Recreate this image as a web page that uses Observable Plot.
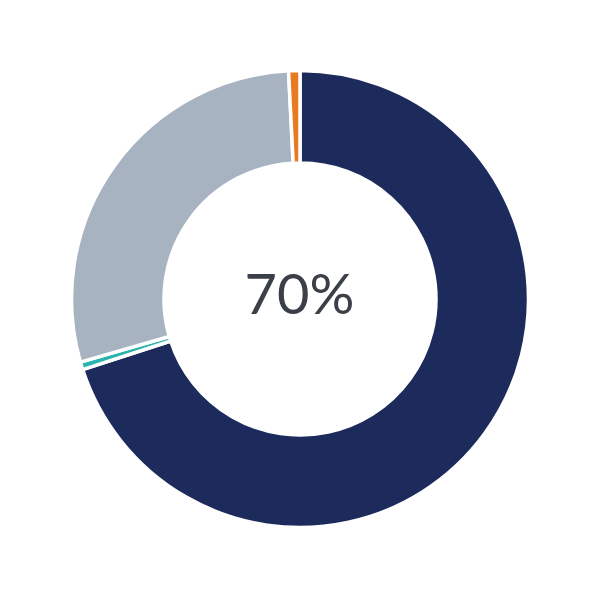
<!DOCTYPE html>
<html>
<head>
<meta charset="utf-8">
<script src="https://cdn.jsdelivr.net/npm/d3@7"></script>
<script src="https://cdn.jsdelivr.net/npm/@observablehq/plot@0.6"></script>
<style>
  html, body { margin: 0; padding: 0; background: #ffffff; }
</style>
</head>
<body>
<div id="chart"></div>
<script>
// Data
const categories = ["Navy", "Teal", "Gray", "Orange"];
const shares = [70, 0.55, 28.65, 0.8];
const colors = ["#1c2b5b", "#2bb3ad", "#a8b3c2", "#e87a22"];
const centerLabel = ["70%"];

const data = categories.map((c, i) => ({category: c, value: shares[i]}));

const donut = (index, scales, values, dimensions) => {
  const cx = 300, cy = 299;
  const pie = d3.pie().value(d => d.value).sort(null);
  const arc = d3.arc().innerRadius(136).outerRadius(228.5);
  const g = d3.create("svg:g").attr("transform", `translate(${cx},${cy})`);
  g.selectAll("path")
    .data(pie(data))
    .join("path")
    .attr("d", arc)
    .attr("fill", d => scales.color(d.data.category))
    .attr("stroke", "#ffffff")
    .attr("stroke-width", 3.5);
  return g.node();
};

const chart = Plot.plot({
  width: 600,
  height: 600,
  margin: 0,
  x: {domain: [0, 1], axis: null},
  y: {domain: [0, 1], axis: null},
  color: {domain: categories, range: colors},
  marks: [
    donut,
    Plot.text(centerLabel, {
      text: d => d,
      frameAnchor: "middle",
      dx: -1,
      dy: -4,
      fontSize: 56,
      fontFamily: "Lato, 'Open Sans', sans-serif",
      fontWeight: 400,
      fill: "#3b4048"
    })
  ]
});
document.getElementById("chart").appendChild(chart);
</script>
</body>
</html>
